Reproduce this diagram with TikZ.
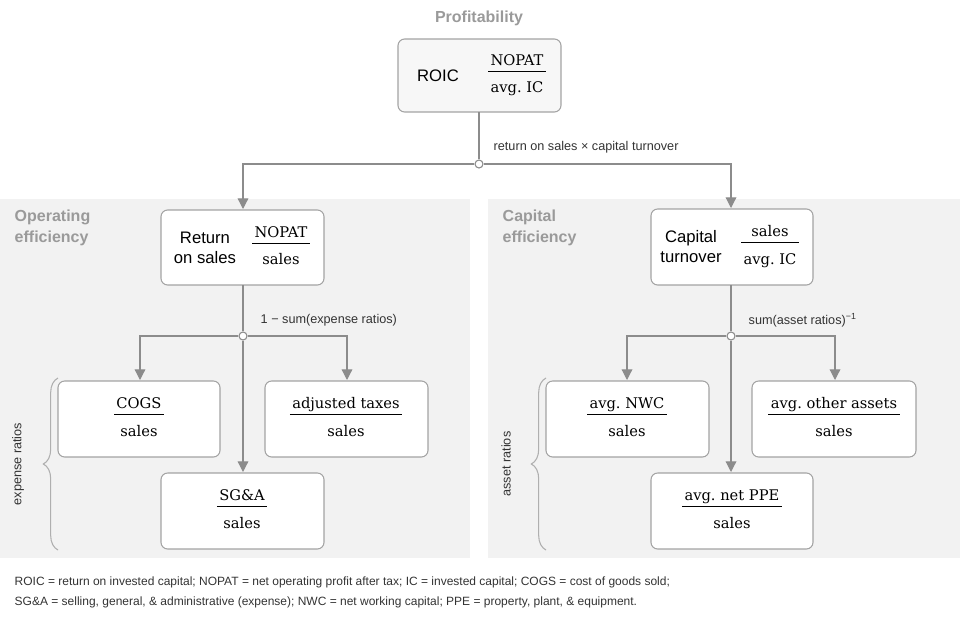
\documentclass[tikz,border=0pt]{standalone}
\usepackage{fontspec}
\setmainfont{Liberation Sans}
\newfontfamily\fracfont{DejaVu Serif}
\usetikzlibrary{arrows.meta,decorations.pathreplacing}
\definecolor{panel}{HTML}{F2F2F2}
\definecolor{ln}{HTML}{8C8C8C}
\definecolor{hd}{HTML}{9A9A9A}
\newcommand{\fr}[2]{{\fracfont\fontsize{11}{13}\selectfont\begin{tabular}{@{\,}c@{\,}}#1\rule[-5pt]{0pt}{5pt}\\[-1pt]\hline\rule{0pt}{16pt}#2\end{tabular}}}
\begin{document}
\begin{tikzpicture}[x=0.75pt,y=-0.75pt,
  box/.style={draw=ln!80,fill=white,rounded corners=5pt,line width=0.8pt},
  conn/.style={draw=ln,line width=0.9pt},
  arr/.style={conn,-{Triangle[width=8pt,length=8pt]}},
  jn/.style={circle,draw=ln,fill=white,inner sep=0pt,minimum size=6pt,line width=0.8pt},
  hdr/.style={font=\bfseries\fontsize{12}{16}\selectfont,text=hd,align=left,anchor=north west},
  lab/.style={font=\fontsize{9.5}{11}\selectfont,text=black!80},
  txt/.style={font=\fontsize{12.5}{15}\selectfont,align=center}]
\useasboundingbox (0,0) rectangle (960,622);
\fill[panel] (0,199) rectangle (470,558);
\fill[panel] (488,199) rectangle (960,558);
\node[font=\bfseries\fontsize{12}{14}\selectfont,text=hd] (title) at (479,18) {Profitability};
\node[hdr] (oe) at (10,205) {Operating\\efficiency};
\node[hdr] (ce) at (498,205) {Capital\\efficiency};
% boxes
\draw[box,fill=panel!60] (398,39) rectangle (561,112);
\node[txt] (roic) at (438,75.5) {ROIC};
\node[txt] (roicf) at (517,75.5) {\fr{NOPAT}{avg.\ IC}};
\coordinate (roicb) at (479,112);
\draw[box] (161,210) rectangle (324,285);
\node[txt] (ros) at (205,247.5) {Return\\on sales};
\node[txt] (rosf) at (281,247.5) {\fr{NOPAT}{sales}};
\draw[box] (651,209) rectangle (813,285);
\node[txt] (ct) at (691,247) {Capital\\turnover};
\node[txt] (ctf) at (770,247) {\fr{sales}{avg.\ IC}};
\draw[box] (58,381) rectangle (220,457);
\node[txt] (cogs) at (139,419) {\fr{COGS}{sales}};
\draw[box] (265,381) rectangle (428,457);
\node[txt] (tax) at (346,419) {\fr{adjusted taxes}{sales}};
\draw[box] (161,473) rectangle (324,549);
\node[txt] (sga) at (242,511) {\fr{SG\&A}{sales}};
\draw[box] (546,381) rectangle (709,457);
\node[txt] (nwc) at (627,419) {\fr{avg.\ NWC}{sales}};
\draw[box] (752,381) rectangle (916,457);
\node[txt] (oth) at (834,419) {\fr{avg.\ other assets}{sales}};
\draw[box] (651,473) rectangle (813,549);
\node[txt] (ppe) at (732,511) {\fr{avg.\ net PPE}{sales}};
% connectors
\node[jn] (j0) at (479,164) {};
\node[jn] (j1) at (243,336) {};
\node[jn] (j2) at (731,336) {};
\draw[conn] (roicb) -- (j0);
\draw[arr] (j0) -| (243,209);
\draw[arr] (j0) -| (731,208);
\node[lab,anchor=west] (l0) at (489,147) {return on sales × capital turnover};
\draw[conn] (243,285) -- (j1);
\draw[arr] (j1) -| (140,380);
\draw[arr] (j1) -| (347,380);
\draw[arr] (j1) -- (243,472);
\node[lab,anchor=west] (l1) at (256,320) {1 − sum(expense ratios)};
\draw[conn] (731,285) -- (j2);
\draw[arr] (j2) -| (627,380);
\draw[arr] (j2) -| (835,380);
\draw[arr] (j2) -- (731,472);
\node[lab,anchor=west] (l2) at (744,320) {sum(asset ratios)\textsuperscript{−1}};
% braces
\draw[draw=ln!70,line width=0.8pt,decorate,decoration={brace,amplitude=11pt}] (58,550) -- (58,378) coordinate (bl);
\draw[draw=ln!70,line width=0.8pt,decorate,decoration={brace,amplitude=11pt}] (546,550) -- (546,378) coordinate (br);
\node[lab,rotate=90] (er) at (18,464) {expense ratios};
\node[lab,rotate=90] (ar) at (506,464) {asset ratios};
% footnote
\node[lab,anchor=west,align=left,font=\fontsize{9}{15}\selectfont] (fn) at (10,592) {ROIC = return on invested capital; NOPAT = net operating profit after tax; IC = invested capital; COGS = cost of goods sold;\\SG\&A = selling, general, \& administrative (expense); NWC = net working capital; PPE = property, plant, \& equipment.};
\end{tikzpicture}
\end{document}
